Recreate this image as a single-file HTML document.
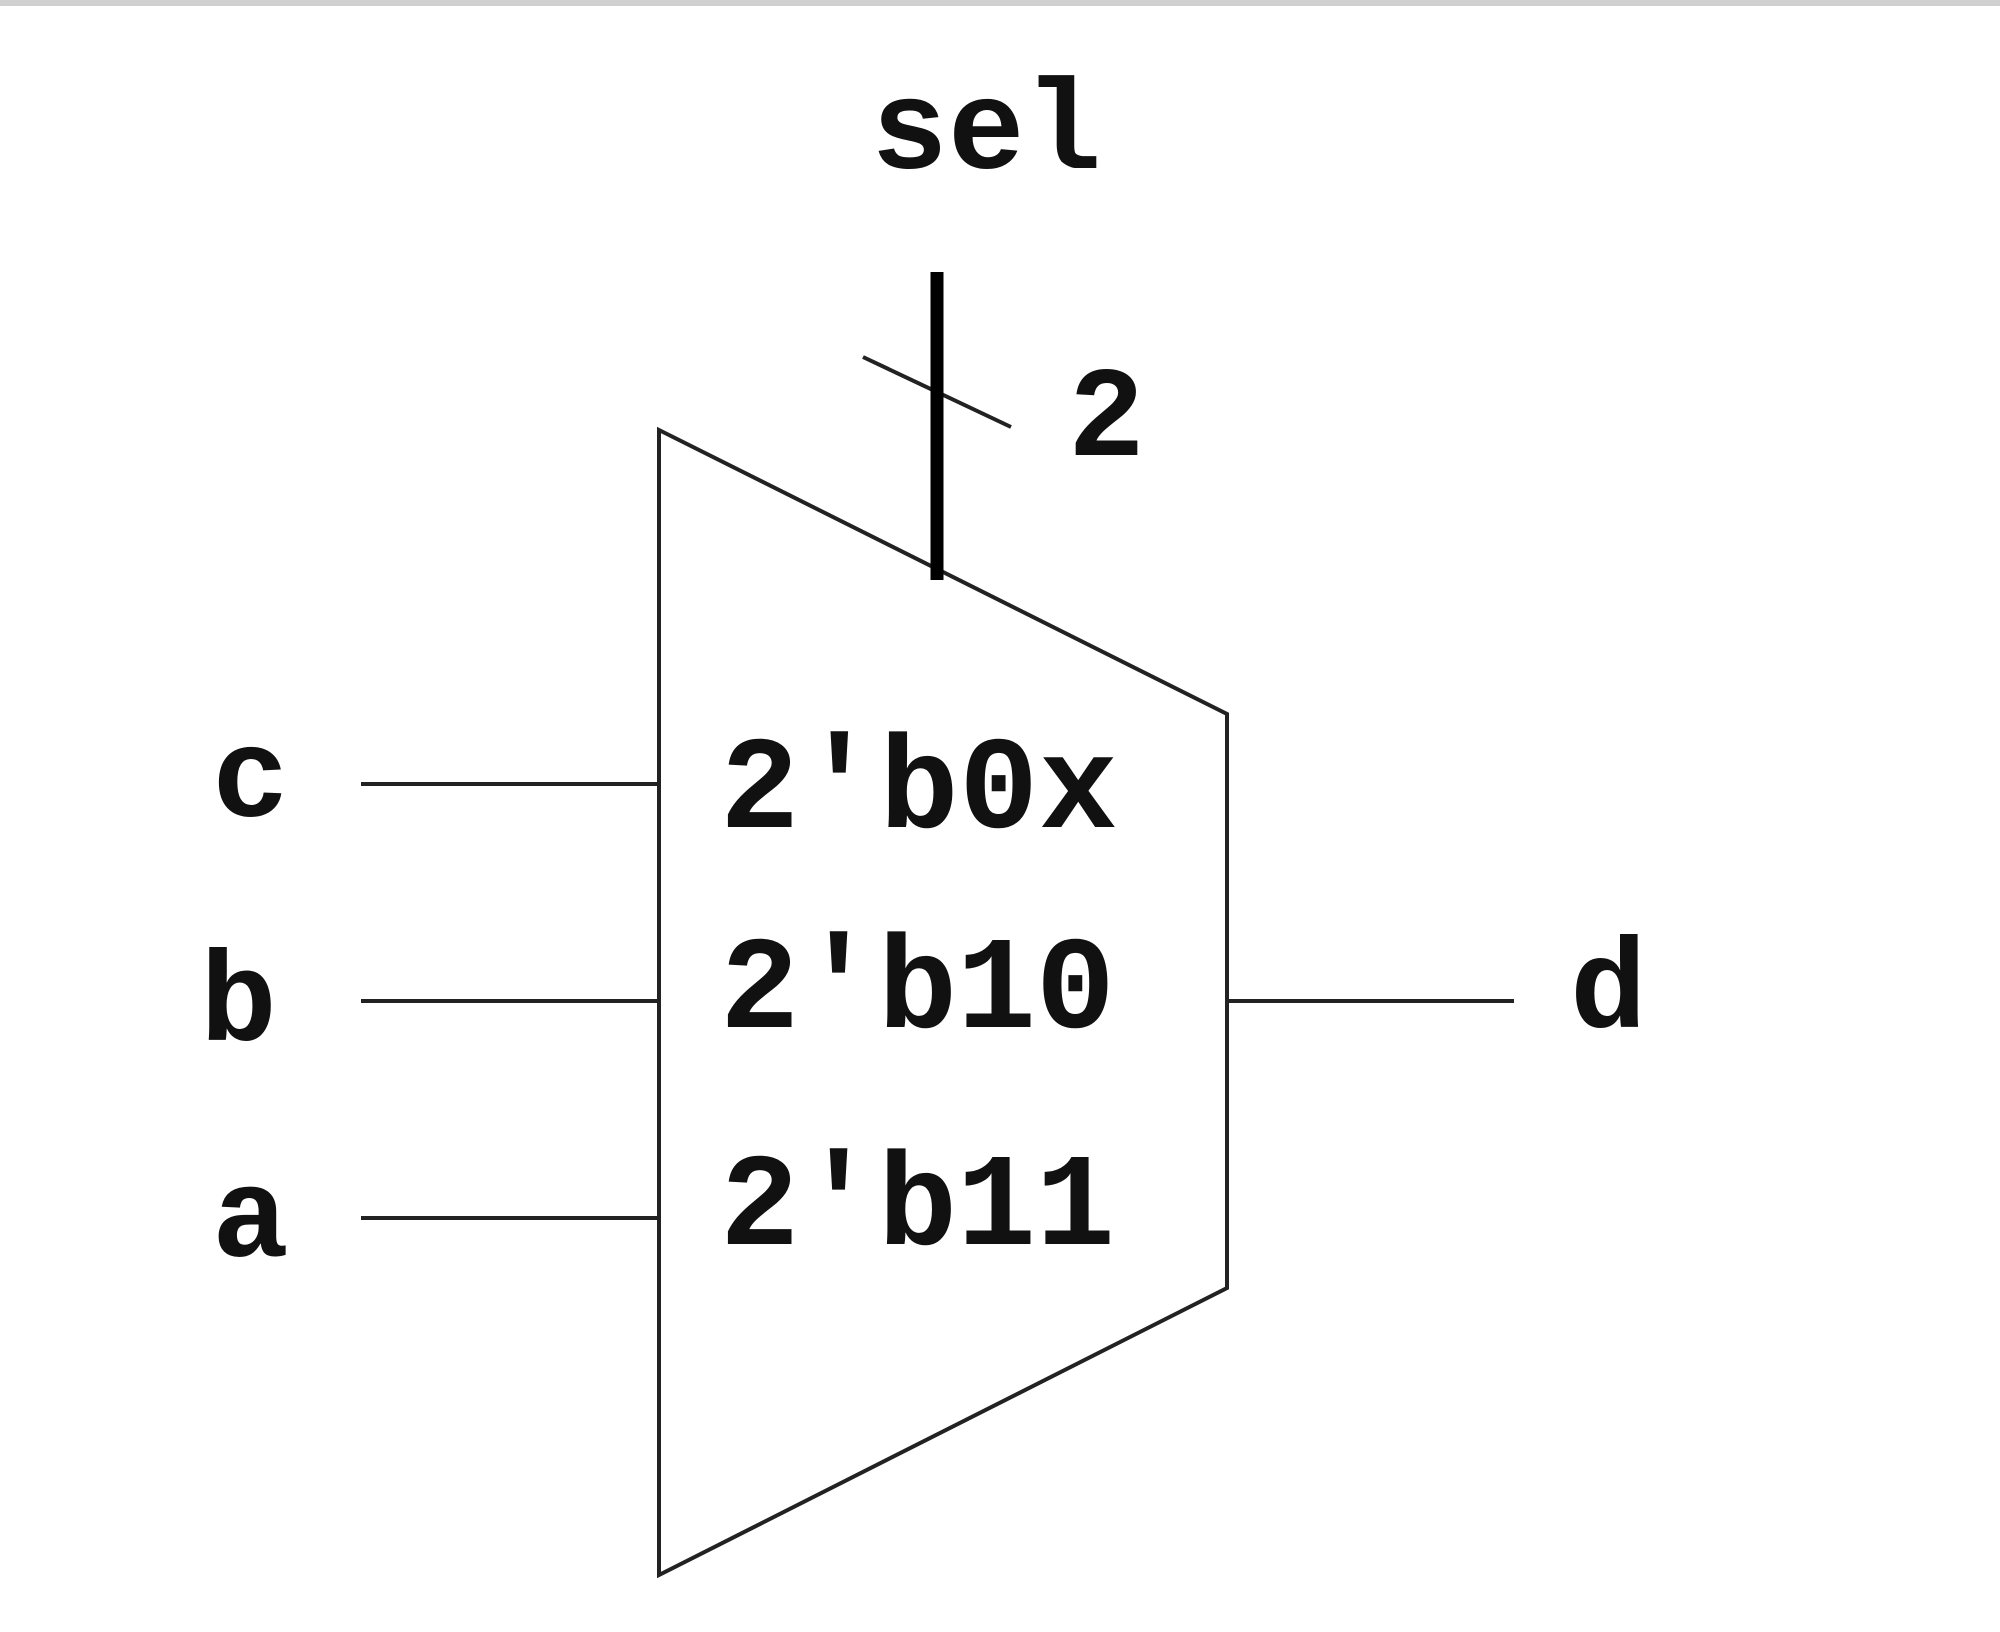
<!DOCTYPE html>
<html><head><style>html,body{margin:0;padding:0;background:#fff;}svg{display:block}</style></head>
<body>
<svg width="2000" height="1632" viewBox="0 0 2000 1632" xmlns="http://www.w3.org/2000/svg">
<rect x="0" y="0" width="2000" height="1632" fill="#fff"/>
<rect x="0" y="0" width="2000" height="6" fill="#d0d0d0"/>
<g font-family="'Liberation Mono', monospace" font-weight="bold" font-size="128" fill="#111">
<text x="871" y="168">sel</text>
<text x="1068" y="455">2</text>
<text x="212" y="816">c</text>
<text x="200" y="1040">b</text>
<text x="212" y="1256">a</text>
<text x="1570" y="1027">d</text>
</g>
<g font-family="'Liberation Mono', monospace" font-weight="bold" font-size="132" fill="#111">
<text x="720" y="827" textLength="398">2′b0x</text>
<text x="720" y="1027" textLength="395">2′b10</text>
<text x="720" y="1244" textLength="395">2′b11</text>
</g>
<g stroke="#222" stroke-width="4" fill="none">
<polygon points="659,430 1227,714 1227,1288 659,1575"/>
<line x1="361" y1="784" x2="659" y2="784"/>
<line x1="361" y1="1001" x2="659" y2="1001"/>
<line x1="361" y1="1218" x2="659" y2="1218"/>
<line x1="1227" y1="1001" x2="1514" y2="1001"/>
<line x1="863" y1="357" x2="1011" y2="427"/>
</g>
<line x1="937" y1="272" x2="937" y2="580" stroke="#000" stroke-width="13"/>
</svg>
</body></html>
